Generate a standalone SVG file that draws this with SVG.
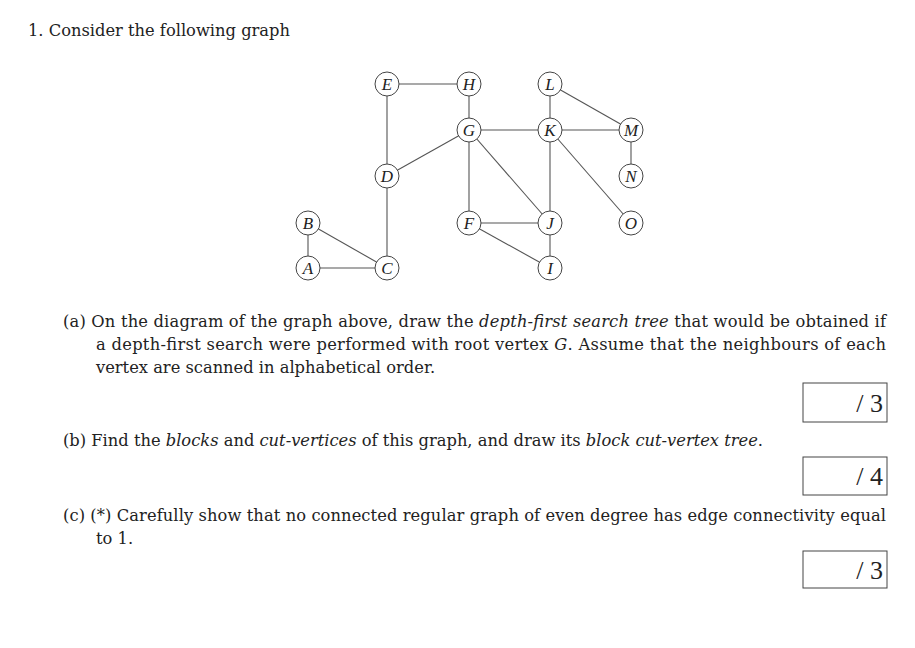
<svg xmlns="http://www.w3.org/2000/svg" width="915" height="648" viewBox="0 0 915 648">
<style>
text{font-family:"DejaVu Serif","Liberation Serif",serif;font-size:16.3px;fill:#222}
.n circle{fill:#fff;stroke:#444;stroke-width:1}
.n text{font-family:"Liberation Serif",serif;font-style:italic;font-size:17px;text-anchor:middle}
.e line{stroke:#555;stroke-width:1.1}
.b{fill:#fff;stroke:#444;stroke-width:1}
.s{font-family:"Liberation Serif",serif;font-size:26px}
</style>
<rect width="915" height="648" fill="#fff"/>
<text x="28" y="36">1. Consider the following graph</text>
<g class="e">
<line x1="387" y1="84" x2="469" y2="84"/>
<line x1="387" y1="84" x2="387" y2="176"/>
<line x1="469" y1="84" x2="469" y2="130"/>
<line x1="550" y1="84" x2="550" y2="130"/>
<line x1="550" y1="84" x2="631" y2="130"/>
<line x1="469" y1="130" x2="550" y2="130"/>
<line x1="550" y1="130" x2="631" y2="130"/>
<line x1="631" y1="130" x2="631" y2="176"/>
<line x1="469" y1="130" x2="387" y2="176"/>
<line x1="469" y1="130" x2="469" y2="223"/>
<line x1="469" y1="130" x2="550" y2="223"/>
<line x1="550" y1="130" x2="550" y2="223"/>
<line x1="550" y1="130" x2="631" y2="223"/>
<line x1="387" y1="176" x2="387" y2="268"/>
<line x1="308" y1="223" x2="308" y2="268"/>
<line x1="308" y1="223" x2="387" y2="268"/>
<line x1="308" y1="268" x2="387" y2="268"/>
<line x1="469" y1="223" x2="550" y2="223"/>
<line x1="469" y1="223" x2="550" y2="268"/>
<line x1="550" y1="223" x2="550" y2="268"/>
</g>
<g id="E" class="n"><circle cx="387" cy="84" r="12"/><text x="387" y="90">E</text></g>
<g id="H" class="n"><circle cx="469" cy="84" r="12"/><text x="469" y="90">H</text></g>
<g id="L" class="n"><circle cx="550" cy="84" r="12"/><text x="550" y="90">L</text></g>
<g id="G" class="n"><circle cx="469" cy="130" r="12"/><text x="469" y="136">G</text></g>
<g id="K" class="n"><circle cx="550" cy="130" r="12"/><text x="550" y="136">K</text></g>
<g id="M" class="n"><circle cx="631" cy="130" r="12"/><text x="631" y="136">M</text></g>
<g id="D" class="n"><circle cx="387" cy="176" r="12"/><text x="387" y="182">D</text></g>
<g id="N" class="n"><circle cx="631" cy="176" r="12"/><text x="631" y="182">N</text></g>
<g id="B" class="n"><circle cx="308" cy="223" r="12"/><text x="308" y="229">B</text></g>
<g id="F" class="n"><circle cx="469" cy="223" r="12"/><text x="469" y="229">F</text></g>
<g id="J" class="n"><circle cx="550" cy="223" r="12"/><text x="550" y="229">J</text></g>
<g id="O" class="n"><circle cx="631" cy="223" r="12"/><text x="631" y="229">O</text></g>
<g id="A" class="n"><circle cx="308" cy="268" r="12"/><text x="308" y="274">A</text></g>
<g id="C" class="n"><circle cx="387" cy="268" r="12"/><text x="387" y="274">C</text></g>
<g id="I" class="n"><circle cx="550" cy="268" r="12"/><text x="550" y="274">I</text></g>
<text x="63" y="327" textLength="823" lengthAdjust="spacing">(a) On the diagram of the graph above, draw the <tspan font-style="italic">depth-first search tree</tspan> that would be obtained if</text>
<text x="96" y="350" textLength="790" lengthAdjust="spacing">a depth-first search were performed with root vertex <tspan font-style="italic">G</tspan>. Assume that the neighbours of each</text>
<text x="96" y="373">vertex are scanned in alphabetical order.</text>
<rect class="b" x="803" y="383" width="84" height="39"/>
<text class="s" x="883" y="412" text-anchor="end">/ 3</text>
<text x="63" y="446">(b) Find the <tspan font-style="italic">blocks</tspan> and <tspan font-style="italic">cut-vertices</tspan> of this graph, and draw its <tspan font-style="italic">block cut-vertex tree</tspan>.</text>
<rect class="b" x="803" y="457" width="84" height="38"/>
<text class="s" x="883" y="485" text-anchor="end">/ 4</text>
<text x="63" y="521" textLength="823" lengthAdjust="spacing">(c) (*) Carefully show that no connected regular graph of even degree has edge connectivity equal</text>
<text x="96" y="544">to 1.</text>
<rect class="b" x="803" y="551" width="84" height="37"/>
<text class="s" x="883" y="579" text-anchor="end">/ 3</text>
</svg>
